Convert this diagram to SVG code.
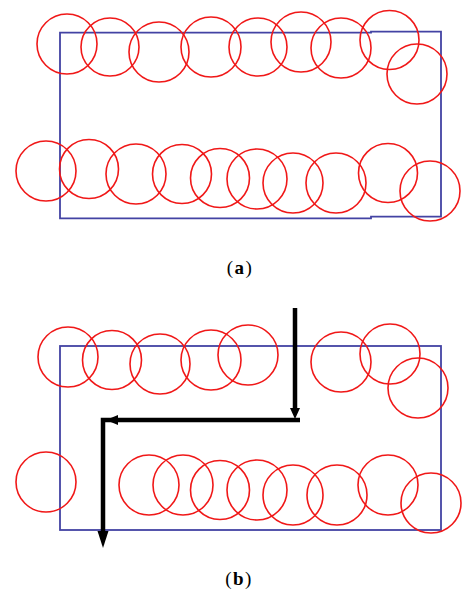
<svg xmlns="http://www.w3.org/2000/svg" width="474" height="605" viewBox="0 0 474 605">
<style>
.c{fill:none;stroke:#f01818;stroke-width:1.6}
.r{fill:none;stroke:#4343a3;stroke-width:1.8}
.a{fill:none;stroke:#000;stroke-width:4.5}
.h{fill:#000}
.t{font-family:"Liberation Serif","DejaVu Serif",serif;font-size:19px;letter-spacing:1.5px;fill:#000;text-anchor:middle}
</style>
<rect width="474" height="605" fill="#fff"/>
<g id="panel-a">
<path class="r" d="M60,32.7 H371 V31.7 H441 V216.7 H371 V218.3 H60 Z"/>
<g id="a-top">
<circle class="c" cx="67" cy="44" r="30"/>
<circle class="c" cx="110" cy="47" r="29"/>
<circle class="c" cx="159" cy="52" r="30"/>
<circle class="c" cx="211" cy="47" r="30"/>
<circle class="c" cx="258" cy="47" r="29"/>
<circle class="c" cx="301" cy="42" r="30"/>
<circle class="c" cx="341" cy="48" r="30"/>
<circle class="c" cx="389.5" cy="40" r="29.5"/>
<circle class="c" cx="417" cy="74" r="30"/>
</g>
<g id="a-bottom">
<circle class="c" cx="46" cy="171" r="30"/>
<circle class="c" cx="89" cy="169" r="29.5"/>
<circle class="c" cx="136" cy="174" r="30"/>
<circle class="c" cx="182" cy="174" r="29.5"/>
<circle class="c" cx="220" cy="178" r="29.5"/>
<circle class="c" cx="257" cy="179" r="30"/>
<circle class="c" cx="293" cy="183" r="30"/>
<circle class="c" cx="336" cy="183" r="30"/>
<circle class="c" cx="388" cy="173" r="29.5"/>
<circle class="c" cx="430" cy="191" r="30"/>
</g>
<text class="t" x="240" y="274">(<tspan font-weight="bold">a</tspan>)</text>
</g>
<g id="panel-b">
<rect class="r" x="60" y="346" width="381" height="184"/>
<g id="b-top">
<circle class="c" cx="68" cy="357" r="30"/>
<circle class="c" cx="112" cy="360" r="29.5"/>
<circle class="c" cx="160" cy="364" r="30"/>
<circle class="c" cx="211" cy="360" r="30"/>
<circle class="c" cx="248" cy="355" r="30"/>
<circle class="c" cx="341" cy="362" r="30"/>
<circle class="c" cx="390" cy="354" r="30"/>
<circle class="c" cx="418" cy="388" r="30"/>
</g>
<g id="b-bottom">
<circle class="c" cx="46" cy="482" r="30"/>
<circle class="c" cx="149" cy="485" r="30"/>
<circle class="c" cx="183" cy="485" r="30"/>
<circle class="c" cx="220" cy="490" r="29.5"/>
<circle class="c" cx="257" cy="490" r="30"/>
<circle class="c" cx="293" cy="495" r="30"/>
<circle class="c" cx="337" cy="495" r="30"/>
<circle class="c" cx="388" cy="485" r="30"/>
<circle class="c" cx="431" cy="503" r="30"/>
</g>
<g id="connectors">
<path class="a" d="M295,308 V410"/>
<polygon class="h" points="290,408 300,408 295,419"/>
<path class="a" d="M300,420 H103 V534"/>
<polygon class="h" points="106,420 118,415 118,425"/>
<polygon class="h" points="97.5,531 108.5,531 103,548"/>
</g>
<text class="t" x="239" y="585">(<tspan font-weight="bold">b</tspan>)</text>
</g>
</svg>
